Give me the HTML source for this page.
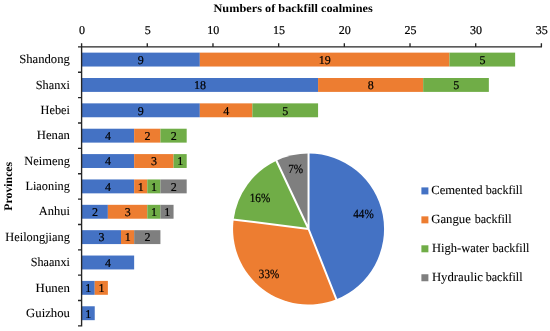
<!DOCTYPE html>
<html lang="en"><head><meta charset="utf-8"><title>Numbers of backfill coalmines</title>
<style>html,body{margin:0;padding:0;background:#fff}svg{display:block}text{font-family:"Liberation Serif",serif;fill:#000;text-rendering:geometricPrecision;stroke:#000;stroke-width:.08px}.t{font-size:12.50px}.d{font-size:12.00px;text-anchor:middle;stroke-width:.2px}.b{font-weight:bold;stroke:none}</style></head><body>
<svg width="550" height="331" viewBox="0 0 550 331">
<rect width="550" height="331" fill="#fff"/>
<rect x="81.60" y="52.63" width="118.23" height="13.90" fill="#4472C4"/>
<text class="d" x="140.87" y="63.88">9</text>
<rect x="199.83" y="52.63" width="249.60" height="13.90" fill="#ED7D31"/>
<text class="d" x="324.78" y="63.88">19</text>
<rect x="449.44" y="52.63" width="65.69" height="13.90" fill="#70AD47"/>
<text class="d" x="482.43" y="63.88">5</text>
<text class="t" x="19.20" y="63.28" textLength="50.70" lengthAdjust="spacingAndGlyphs">Shandong</text>
<rect x="81.60" y="78.00" width="236.47" height="13.90" fill="#4472C4"/>
<text class="d" x="199.98" y="89.25">18</text>
<rect x="318.07" y="78.00" width="105.10" height="13.90" fill="#ED7D31"/>
<text class="d" x="370.76" y="89.25">8</text>
<rect x="423.16" y="78.00" width="65.69" height="13.90" fill="#70AD47"/>
<text class="d" x="456.15" y="89.25">5</text>
<text class="t" x="35.80" y="88.65" textLength="34.10" lengthAdjust="spacingAndGlyphs">Shanxi</text>
<rect x="81.60" y="103.36" width="118.23" height="13.90" fill="#4472C4"/>
<text class="d" x="140.87" y="114.61">9</text>
<rect x="199.83" y="103.36" width="52.55" height="13.90" fill="#ED7D31"/>
<text class="d" x="226.26" y="114.61">4</text>
<rect x="252.38" y="103.36" width="65.69" height="13.90" fill="#70AD47"/>
<text class="d" x="285.37" y="114.61">5</text>
<text class="t" x="40.60" y="114.01" textLength="29.30" lengthAdjust="spacingAndGlyphs">Hebei</text>
<rect x="81.60" y="128.72" width="52.55" height="13.90" fill="#4472C4"/>
<text class="d" x="108.02" y="139.97">4</text>
<rect x="134.15" y="128.72" width="26.27" height="13.90" fill="#ED7D31"/>
<text class="d" x="147.44" y="139.97">2</text>
<rect x="160.42" y="128.72" width="26.27" height="13.90" fill="#70AD47"/>
<text class="d" x="173.71" y="139.97">2</text>
<text class="t" x="36.80" y="139.37" textLength="33.10" lengthAdjust="spacingAndGlyphs">Henan</text>
<rect x="81.60" y="154.09" width="52.55" height="13.90" fill="#4472C4"/>
<text class="d" x="108.02" y="165.34">4</text>
<rect x="134.15" y="154.09" width="39.41" height="13.90" fill="#ED7D31"/>
<text class="d" x="154.00" y="165.34">3</text>
<rect x="173.56" y="154.09" width="13.14" height="13.90" fill="#70AD47"/>
<text class="d" x="180.28" y="165.34">1</text>
<text class="t" x="24.20" y="164.74" textLength="45.70" lengthAdjust="spacingAndGlyphs">Neimeng</text>
<rect x="81.60" y="179.45" width="52.55" height="13.90" fill="#4472C4"/>
<text class="d" x="108.02" y="190.70">4</text>
<rect x="134.15" y="179.45" width="13.14" height="13.90" fill="#ED7D31"/>
<text class="d" x="140.87" y="190.70">1</text>
<rect x="147.28" y="179.45" width="13.14" height="13.90" fill="#70AD47"/>
<text class="d" x="154.00" y="190.70">1</text>
<rect x="160.42" y="179.45" width="26.27" height="13.90" fill="#7F7F7F"/>
<text class="d" x="173.71" y="190.70">2</text>
<text class="t" x="25.40" y="190.10" textLength="44.50" lengthAdjust="spacingAndGlyphs">Liaoning</text>
<rect x="81.60" y="204.82" width="26.27" height="13.90" fill="#4472C4"/>
<text class="d" x="94.89" y="216.07">2</text>
<rect x="107.87" y="204.82" width="39.41" height="13.90" fill="#ED7D31"/>
<text class="d" x="127.73" y="216.07">3</text>
<rect x="147.28" y="204.82" width="13.14" height="13.90" fill="#70AD47"/>
<text class="d" x="154.00" y="216.07">1</text>
<rect x="160.42" y="204.82" width="13.14" height="13.90" fill="#7F7F7F"/>
<text class="d" x="167.14" y="216.07">1</text>
<text class="t" x="38.70" y="215.47" textLength="31.20" lengthAdjust="spacingAndGlyphs">Anhui</text>
<rect x="81.60" y="230.18" width="39.41" height="13.90" fill="#4472C4"/>
<text class="d" x="101.46" y="241.43">3</text>
<rect x="121.01" y="230.18" width="13.14" height="13.90" fill="#ED7D31"/>
<text class="d" x="127.73" y="241.43">1</text>
<rect x="134.15" y="230.18" width="26.27" height="13.90" fill="#7F7F7F"/>
<text class="d" x="147.44" y="241.43">2</text>
<text class="t" x="5.30" y="240.83" textLength="64.60" lengthAdjust="spacingAndGlyphs">Heilongjiang</text>
<rect x="81.60" y="255.54" width="52.55" height="13.90" fill="#4472C4"/>
<text class="d" x="108.02" y="266.79">4</text>
<text class="t" x="30.70" y="266.19" textLength="39.20" lengthAdjust="spacingAndGlyphs">Shaanxi</text>
<rect x="81.60" y="280.91" width="13.14" height="13.90" fill="#4472C4"/>
<text class="d" x="88.32" y="292.16">1</text>
<rect x="94.74" y="280.91" width="13.14" height="13.90" fill="#ED7D31"/>
<text class="d" x="101.46" y="292.16">1</text>
<text class="t" x="35.60" y="291.56" textLength="34.30" lengthAdjust="spacingAndGlyphs">Hunen</text>
<rect x="81.60" y="306.27" width="13.14" height="13.90" fill="#4472C4"/>
<text class="d" x="88.32" y="317.52">1</text>
<text class="t" x="26.10" y="316.92" textLength="43.80" lengthAdjust="spacingAndGlyphs">Guizhou</text>
<path d="M80.95 46.90H542.04M81.60 46.25V326.55M81.60 43.20V46.90M147.28 43.20V46.90M212.97 43.20V46.90M278.65 43.20V46.90M344.34 43.20V46.90M410.02 43.20V46.90M475.71 43.20V46.90M541.39 43.20V46.90M78.00 46.90H81.60M78.00 72.26H81.60M78.00 97.63H81.60M78.00 122.99H81.60M78.00 148.36H81.60M78.00 173.72H81.60M78.00 199.08H81.60M78.00 224.45H81.60M78.00 249.81H81.60M78.00 275.18H81.60M78.00 300.54H81.60M78.00 325.90H81.60" stroke="#262626" stroke-width="1.35" fill="none"/>
<text class="d" x="82.00" y="33.6">0</text>
<text class="d" x="147.69" y="33.6">5</text>
<text class="d" x="213.37" y="33.6">10</text>
<text class="d" x="279.05" y="33.6">15</text>
<text class="d" x="344.74" y="33.6">20</text>
<text class="d" x="410.42" y="33.6">25</text>
<text class="d" x="476.11" y="33.6">30</text>
<text class="d" x="541.79" y="33.6">35</text>
<text class="t b" style="font-size:11.5px" x="213.5" y="11.9" textLength="159.3" lengthAdjust="spacingAndGlyphs">Numbers of backfill coalmines</text>
<text class="t b" style="font-size:11.6px" transform="translate(12 210.7) rotate(-90)" textLength="48.9" lengthAdjust="spacingAndGlyphs">Provinces</text>
<path d="M308.55 229.00L308.55 153.50A75.50 75.50 0 0 1 336.34 299.20Z" fill="#4472C4"/>
<path d="M308.55 229.00L336.34 299.20A75.50 75.50 0 0 1 233.65 219.54Z" fill="#ED7D31"/>
<path d="M308.55 229.00L233.65 219.54A75.50 75.50 0 0 1 276.40 160.69Z" fill="#70AD47"/>
<path d="M308.55 229.00L276.40 160.69A75.50 75.50 0 0 1 308.55 153.50Z" fill="#7F7F7F"/>
<path d="M308.55 229.00L308.55 152.50M308.55 229.00L336.71 300.13M308.55 229.00L232.65 219.41M308.55 229.00L275.98 159.78" stroke="#fff" stroke-width="2" stroke-linecap="round" fill="none"/>
<text class="d" style="font-size:12.6px" x="363.50" y="217.70" textLength="20.50" lengthAdjust="spacingAndGlyphs">44%</text>
<text class="d" style="font-size:12.6px" x="269.00" y="278.00" textLength="20.30" lengthAdjust="spacingAndGlyphs">33%</text>
<text class="d" style="font-size:12.6px" x="260.00" y="201.70" textLength="20.50" lengthAdjust="spacingAndGlyphs">16%</text>
<text class="d" style="font-size:12.6px" x="295.70" y="172.80" textLength="15.00" lengthAdjust="spacingAndGlyphs">7%</text>
<rect x="421.4" y="187.40" width="7" height="7" fill="#4472C4"/>
<text class="t" y="194.30"><tspan x="431.20" textLength="51.30" lengthAdjust="spacingAndGlyphs">Cemented</tspan> <tspan x="485.70" textLength="36.90" lengthAdjust="spacingAndGlyphs">backfill</tspan></text>
<rect x="421.4" y="216.35" width="7" height="7" fill="#ED7D31"/>
<text class="t" y="223.25"><tspan x="431.20" textLength="39.70" lengthAdjust="spacingAndGlyphs">Gangue</tspan> <tspan x="474.70" textLength="36.90" lengthAdjust="spacingAndGlyphs">backfill</tspan></text>
<rect x="421.4" y="245.30" width="7" height="7" fill="#70AD47"/>
<text class="t" y="252.20"><tspan x="431.90" textLength="57.10" lengthAdjust="spacingAndGlyphs">High-water</tspan> <tspan x="492.50" textLength="36.90" lengthAdjust="spacingAndGlyphs">backfill</tspan></text>
<rect x="421.4" y="274.25" width="7" height="7" fill="#7F7F7F"/>
<text class="t" y="281.15"><tspan x="431.90" textLength="51.00" lengthAdjust="spacingAndGlyphs">Hydraulic</tspan> <tspan x="485.70" textLength="36.90" lengthAdjust="spacingAndGlyphs">backfill</tspan></text>
</svg></body></html>
